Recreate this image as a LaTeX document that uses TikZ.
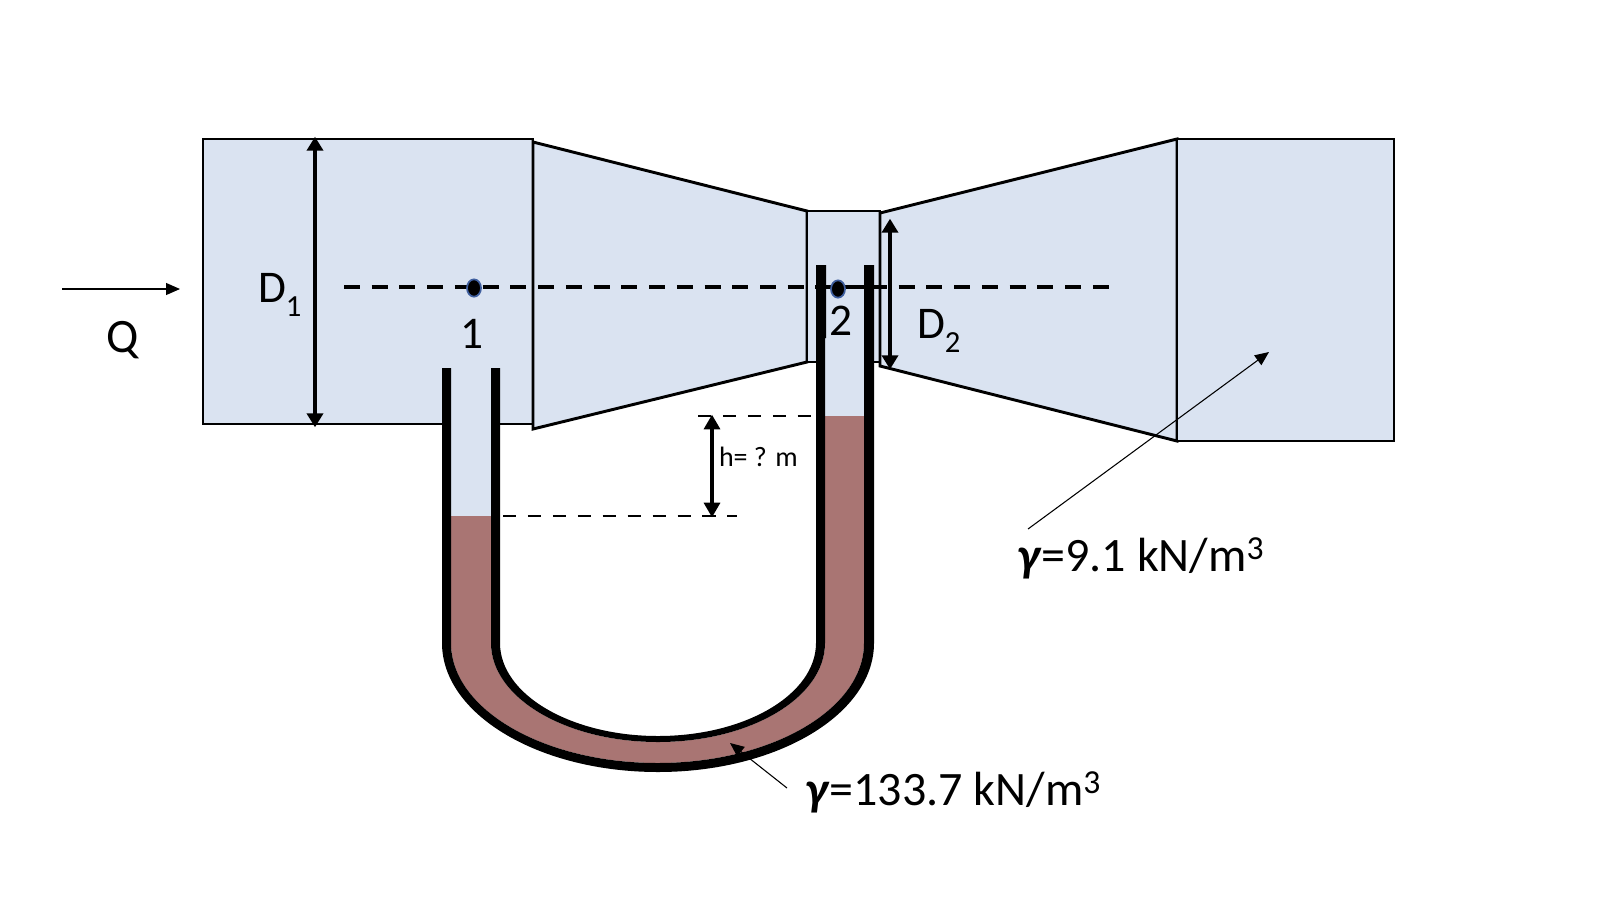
\documentclass[tikz,border=0pt]{standalone}
\usepackage{fontspec}
\setmainfont{Carlito}
\usetikzlibrary{arrows.meta,shapes.geometric}
\definecolor{pipeblue}{HTML}{DAE3F1}
\definecolor{fluidbrown}{HTML}{A97573}
\definecolor{dotblue}{HTML}{3F5F9F}
\tikzset{
  x=0.75bp,y=-0.75bp,
  pipe/.style={draw=black,fill=pipeblue,line width=2.2bp,line join=miter},
  wall/.style={fill=black,draw=none},
  big/.style={font=\fontsize{34bp}{36bp}\selectfont,anchor=base west,inner sep=0pt,outer sep=0pt},
  gammatext/.style={font=\fontsize{36bp}{38bp}\selectfont,anchor=base west,inner sep=0pt,outer sep=0pt},
  small/.style={font=\fontsize{21bp}{23bp}\selectfont,anchor=base west,inner sep=0pt,outer sep=0pt},
  dim/.style={line width=3.2bp,{Triangle[width=12bp,length=10.5bp]}-{Triangle[width=12bp,length=10.5bp]},shorten >=-1bp,shorten <=-1bp},
  thinarrow/.style={line width=0.8bp,-{Triangle[width=9bp,length=10.5bp]}},
  centre/.style={line width=2.4bp,dash pattern=on 12bp off 8.8bp},
  level/.style={line width=1.1bp,dash pattern=on 10bp off 8.7bp},
  pointdot/.style={ellipse,fill=black,draw=dotblue,line width=1.3bp,minimum width=10.5bp,minimum height=13bp,inner sep=0pt}
}
\newcommand{\gam}{\textbf{\textit{γ}}}
\begin{document}
\begin{tikzpicture}
\useasboundingbox[fill=white] (0,0) rectangle (1600,916);
% pipe
\path[pipe] (203,139) rectangle (533,424);
\path[pipe] (533,142) -- (807,211) -- (807,362) -- (533,429) -- cycle;
\path[pipe] (807,211) rectangle (880,362);
\path[pipe] (880,213) -- (1177,139) -- (1177,441) -- (880,366) -- cycle;
\path[pipe] (1177,139) rectangle (1394,441);
% manometer liquids
\fill[pipeblue] (451,368) rectangle (491,516);
\fill[pipeblue] (825,265) rectangle (864,416);
\fill[fluidbrown] (451,516) -- (451,643) .. controls (451,709.3) and (543.5,763) .. (657.5,763)
  .. controls (771.5,763) and (864,709.3) .. (864,643) -- (864,416) -- (825,416) -- (825,643)
  .. controls (825,697.7) and (750.2,742) .. (658,742)
  .. controls (565.8,742) and (491,697.7) .. (491,643) -- (491,516) -- cycle;
% manometer walls
\fill[wall] (442,368) -- (442,643) .. controls (442,714.2) and (538.7,772) .. (658,772)
  .. controls (777.3,772) and (874,714.2) .. (874,643) -- (874,265) -- (864,265) -- (864,643)
  .. controls (864,709.3) and (771.5,763) .. (657.5,763)
  .. controls (543.5,763) and (451,709.3) .. (451,643) -- (451,368) -- cycle;
\fill[wall] (491,368) -- (491,643) .. controls (491,697.7) and (565.8,742) .. (658,742)
  .. controls (750.2,742) and (825,697.7) .. (825,643) -- (825,338) -- (826,338) -- (826,265) -- (816,265) -- (816,643)
  .. controls (816,694.4) and (745.3,736) .. (658,736)
  .. controls (570.7,736) and (500,694.4) .. (500,643) -- (500,368) -- cycle;
% centre line
\coordinate (cl) at (344,287);
\coordinate (cr) at (1110,287);
\coordinate (sa) at (826,287);
\coordinate (sb) at (887,287);
\draw[centre] (cl) -- (cr);
\draw[line width=2.4bp] (sa) -- (sb);
\node[pointdot] (p1) at (474,288) {};
\node[pointdot] (p2) at (838,289) {};
% level lines
\coordinate (la) at (698,416);
\coordinate (lb) at (816,416);
\coordinate (lc) at (503,516);
\coordinate (ld) at (737,516);
\draw[level] (la) -- (lb);
\draw[level] (lc) -- (ld);
% dimensions
\coordinate (d1a) at (315,138);
\coordinate (d1b) at (315,426);
\coordinate (d2a) at (890,220);
\coordinate (d2b) at (890,368);
\coordinate (ha) at (712,416);
\coordinate (hb) at (712,516);
\draw[dim] (d1a) -- (d1b);
\draw[dim] (d2a) -- (d2b);
\draw[dim,line width=2.4bp,{Triangle[width=12bp,length=11bp]}-{Triangle[width=12bp,length=11bp]}] (ha) -- (hb);
% labels
\node[big] (td1) at (258,302) {D\raisebox{-11bp}{\fontsize{23bp}{24bp}\selectfont 1}};
\node[big] (td2) at (917,338) {D\raisebox{-11bp}{\fontsize{23bp}{24bp}\selectfont 2}};
\node[big] (tn1) at (460,348) {1};
\node[big] (tn2) at (829,335) {2};
\node[big,font=\fontsize{36bp}{38bp}\selectfont] (tq) at (106,352) {Q};
\node[small] (th) at (719,466) {h= ? m};
\node[gammatext] (tg1) at (1017,571) {\gam=9.1 kN/m\textsuperscript{3}};
\node[gammatext] (tg2) at (805,805) {\gam=133.7 kN/m\textsuperscript{3}};
% thin arrows
\coordinate (qa) at (62,289);
\coordinate (qb) at (180,289);
\coordinate (ga) at (1028,529);
\coordinate (gb) at (1269,352);
\coordinate (ma) at (787,788);
\coordinate (mb) at (730,743);
\draw[thinarrow] (qa) -- (qb);
\draw[thinarrow] (ga) -- (gb);
\draw[thinarrow] (ma) -- (mb);
\end{tikzpicture}
\end{document}
